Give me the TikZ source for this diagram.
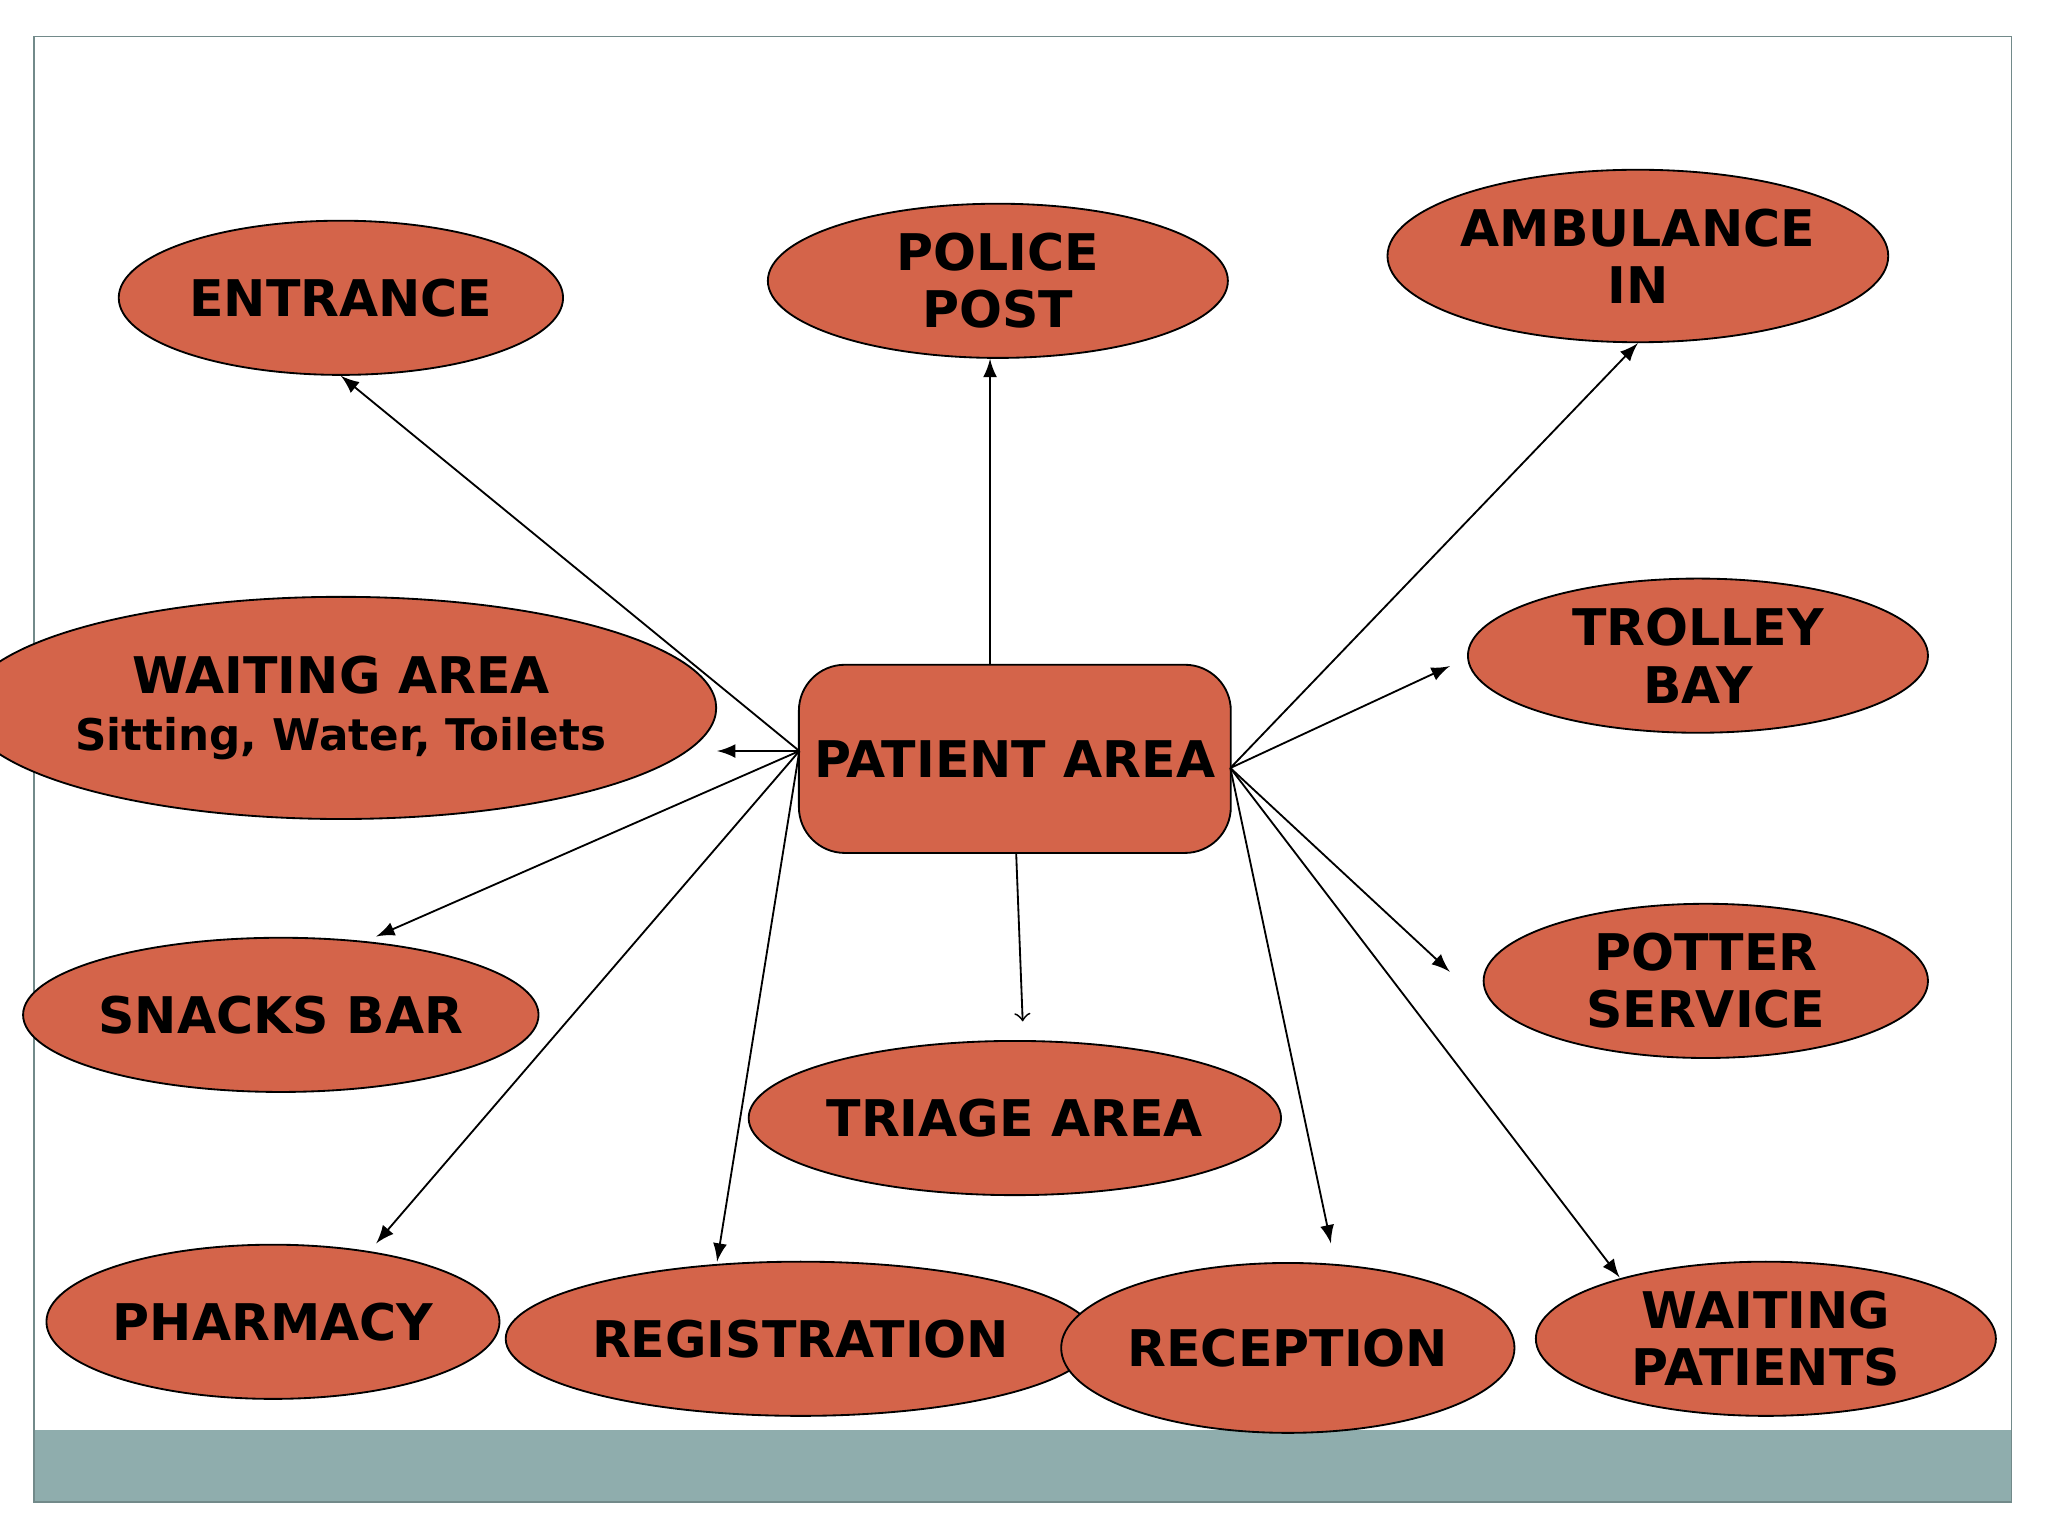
\documentclass[tikz,border=0pt]{standalone}
\usepackage{fontspec}
\setmainfont{DejaVu Sans}
\usetikzlibrary{positioning, arrows, shapes}
\definecolor{areafill}{HTML}{D4644A}
\definecolor{bandcol}{HTML}{8FADAD}
\tikzset{
	area/.style={ellipse, draw=black, fill=areafill, font=\fontsize{11}{12.5}\selectfont\bfseries, align=center, inner sep=0pt},
	link/.style={-latex, thin}
}
\begin{document}
\begin{tikzpicture}[x=0.01cm, y=-0.01cm]
		\useasboundingbox (0,0) rectangle (1568,1176);
		\fill[white] (0,0) rectangle (1568,1176);
		
		%Frame and band
		\fill[bandcol] (26,1095) rectangle (1540,1150);
		\draw[bandcol!80!black, thin] (26,28) rectangle (1540,1150);
		
		%Areas
		\node[draw=black, fill=areafill, rounded corners=10pt, minimum width=3.26cm, minimum height=1.44cm, font=\fontsize{11}{12.5}\selectfont\bfseries] (pa) at (777,581) {PATIENT AREA};
		\node[area, minimum width=3.4cm, minimum height=1.18cm] (entr) at (261,228) {ENTRANCE};
		\node[area, minimum width=3.52cm, minimum height=1.18cm] (pol) at (764,215) {POLICE\\POST};
		\node[area, minimum width=3.4cm, minimum height=1.32cm] (amb) at (1254,196) {AMBULANCE\\IN};
		\node[area, minimum width=4.18cm, minimum height=1.7cm] (wait) at (261,542) {WAITING AREA\\{\fontsize{9.5}{11}\selectfont Sitting, Water, Toilets}};
		\node[area, minimum width=3.52cm, minimum height=1.18cm] (trol) at (1300,502) {TROLLEY\\BAY};
		\node[area, minimum width=3.28cm, minimum height=1.18cm] (snack) at (215,777) {SNACKS BAR};
		\node[area, minimum width=3.4cm, minimum height=1.18cm] (pot) at (1306,751) {POTTER\\SERVICE};
		\node[area, minimum width=3.28cm, minimum height=1.18cm] (tri) at (777,856) {TRIAGE AREA};
		\node[area, minimum width=3.4cm, minimum height=1.18cm] (pha) at (209,1012) {PHARMACY};
		\node[area, minimum width=3.4cm, minimum height=1.18cm] (reg) at (613,1025) {REGISTRATION};
		\node[area, minimum width=3.28cm, minimum height=1.3cm] (rec) at (986,1032) {RECEPTION};
		\node[area, minimum width=3.52cm, minimum height=1.18cm] (wp) at (1352,1025) {WAITING\\PATIENTS};
		
		%Start points
		\coordinate (pl) at (612,575);
		\coordinate (pr) at (942,588);
		\coordinate (ptop) at (758,509);
		\coordinate (pbot) at (778,653);
		\coordinate (trolin) at (1110,510);
		\coordinate (potin) at (1110,744);
		
		%Links
		\draw[link] (pl) -- (entr.south);
		\draw[link] (pl) -- (wait.east |- pl);
		\draw[link] (pl) -- (288,717);
		\draw[link] (pl) -- (288,952);
		\draw[link] (pl) -- (549,966);
		\draw[link] (ptop) -- (pol.south -| ptop);
		\draw[-to, thin] (pbot) -- (783,782);
		\draw[link] (pr) -- (amb.south);
		\draw[link] (pr) -- (trolin);
		\draw[link] (pr) -- (potin);
		\draw[link] (pr) -- (1019,952);
		\draw[link] (pr) -- (1240,978);
\end{tikzpicture}
\end{document}
